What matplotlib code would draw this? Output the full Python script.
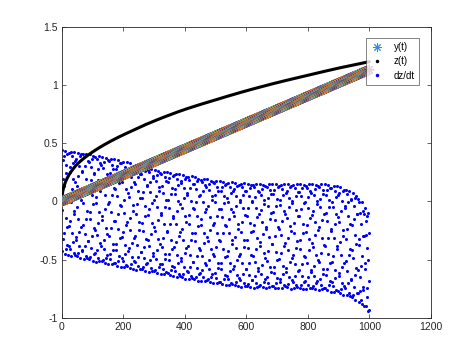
import numpy as np
import matplotlib
matplotlib.use("Agg")
import matplotlib.pyplot as plt
from matplotlib.lines import Line2D

# ---- data ----
t_samples = np.arange(0, 1001)          # time grid (x axis)

# y(t): straight band from (0,0) to (1000, ~1.13)
y_knots_t = [0, 1000]
y_knots_v = [0.0, 1.13]

# z(t): black curve
z_knots_t = [0, 5, 10, 26, 48, 102, 145, 210, 300, 400, 500, 600, 700, 800, 900, 975, 1000]
z_knots_v = [0.0, 0.11, 0.155, 0.24, 0.315, 0.428, 0.497, 0.584, 0.69, 0.79, 0.872, 0.95,
             1.02, 1.083, 1.145, 1.185, 1.2]

# dz/dt: upper / lower envelope of the blue dot cloud
dz_upper_t = [0, 86, 194, 302, 411, 519, 627, 736, 844, 900, 931, 960, 975, 990, 1000]
dz_upper_v = [0.44, 0.41, 0.35, 0.27, 0.22, 0.17, 0.15, 0.15, 0.15, 0.13, 0.10, 0.05, 0.0, -0.08, -0.10]
dz_lower_t = [0, 102, 200, 319, 400, 535, 600, 752, 861, 926, 969, 996, 1000]
dz_lower_v = [-0.45, -0.515, -0.57, -0.62, -0.665, -0.72, -0.74, -0.75, -0.765, -0.81, -0.87, -0.95, -1.0]
dz_cycles_per_sample = 3 / 11 + 1 / 470   # oscillation seen in the dot pattern

x_ticks = [0, 200, 400, 600, 800, 1000, 1200]
y_ticks = [-1, -0.5, 0, 0.5, 1, 1.5]
y_tick_labels = ["-1", "-0.5", "0", "0.5", "1", "1.5"]
legend_labels = ["y(t)", "z(t)", "dz/dt"]

matlab_colors = [(0, 0.447, 0.741), (0.85, 0.325, 0.098), (0.929, 0.694, 0.125),
                 (0.494, 0.184, 0.556), (0.466, 0.674, 0.188), (0.301, 0.745, 0.933),
                 (0.635, 0.078, 0.184)]

# ---- build series ----
y_vals = np.interp(t_samples, y_knots_t, y_knots_v)
# z is interpolated on a t**0.46 scale so the steep start stays smooth
z_vals = np.interp(np.power(t_samples, 0.46), np.power(z_knots_t, 0.46), z_knots_v)
up = np.interp(t_samples, dz_upper_t, dz_upper_v)
lo = np.interp(t_samples, dz_lower_t, dz_lower_v)
dz_vals = (up + lo) / 2 + (up - lo) / 2 * np.cos(2 * np.pi * dz_cycles_per_sample * t_samples)

plt.rcParams['font.family'] = ['Liberation Sans', 'DejaVu Sans']

fig = plt.figure(figsize=(4.76, 3.57), dpi=100)
ax = fig.add_axes([0.13, 0.11, 0.775, 0.815])

ax.plot(t_samples, dz_vals, linestyle='none', marker='o', ms=2.2, mew=0,
        color=(0, 0, 1), zorder=2)
ax.plot(t_samples, z_vals, color='black', lw=2.2, zorder=3,
        solid_capstyle='round')
band_colors = [matlab_colors[i % len(matlab_colors)] for i in range(len(t_samples))]
ax.scatter(t_samples, y_vals, marker=(8, 2, 0), s=48, c=band_colors, linewidths=0.6, zorder=4)

ax.set_xlim(0, 1200)
ax.set_ylim(-1, 1.5)
ax.set_xticks(x_ticks)
ax.set_xticklabels([str(v) for v in x_ticks])
ax.set_yticks(y_ticks)
ax.set_yticklabels(y_tick_labels)
gray = (0.15, 0.15, 0.15)
ax.tick_params(direction='in', length=3, width=0.5, colors=gray, labelsize=7.5,
               top=True, right=True, labeltop=False, labelright=False, pad=3)
for s in ax.spines.values():
    s.set_color(gray)
    s.set_linewidth(0.6)

handles = [
    Line2D([], [], linestyle='none', marker=(8, 2, 0), ms=6, color=(0.2, 0.55, 0.85), mew=0.7),
    Line2D([], [], linestyle='none', marker='.', ms=3, color='black'),
    Line2D([], [], linestyle='none', marker='.', ms=3, color=(0, 0, 1)),
]
leg = ax.legend(handles, legend_labels, loc='upper right', bbox_to_anchor=(0.968, 0.961),
                borderaxespad=0, fontsize=7, frameon=True, fancybox=False,
                handlelength=1.6, handletextpad=0.9, labelspacing=0.45,
                borderpad=0.4)
leg.get_frame().set_edgecolor(gray)
leg.get_frame().set_linewidth(0.5)
leg.set_zorder(10)

fig.savefig("out.png", dpi=100, facecolor='white')
